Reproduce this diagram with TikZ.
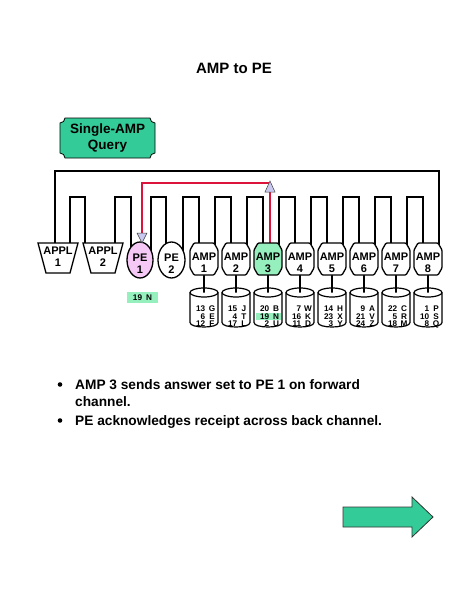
\documentclass[tikz,border=0pt]{standalone}
\usepackage{fontspec}
\setmainfont{Liberation Sans}
\usetikzlibrary{calc,backgrounds}
\definecolor{tealq}{RGB}{51,204,153}
\definecolor{mint}{RGB}{150,240,190}
\definecolor{pinkpe}{RGB}{245,200,245}
\definecolor{redline}{RGB}{220,20,60}
\definecolor{lav}{RGB}{200,200,240}
\begin{document}
\begin{tikzpicture}[x=1pt,y=-1pt,
  wire/.style={line width=1.4pt,draw=black},
  redwire/.style={line width=2.6pt,draw=redline},
  shp/.style={line width=1.3pt,draw=black,fill=white},
  lbl/.style={font=\fontsize{11}{12}\selectfont\bfseries,align=center,inner sep=0pt},
  cell/.style={font=\fontsize{8.2}{8.2}\selectfont\bfseries,inner sep=0pt},
  tri/.style={fill=lav,draw=black!75,line width=0.5pt},
  bullettext/.style={font=\fontsize{13.7}{16}\selectfont\bfseries,inner sep=0pt,anchor=base west}
]
\useasboundingbox (0,0) rectangle (474,613);

% title
\node[font=\fontsize{15}{18}\selectfont\bfseries] (title) at (234,68) {AMP to PE};

% Single-AMP Query plaque
\path[fill=tealq,draw=black,line width=0.8pt]
  (65,118) -- (150,118) .. controls (150,120.76) and (152.24,123) .. (155,123)
  -- (155,153) .. controls (152.24,153) and (150,155.24) .. (150,158)
  -- (65,158) .. controls (65,155.24) and (62.76,153) .. (60,153)
  -- (60,123) .. controls (62.76,123) and (65,120.76) .. (65,118) -- cycle;
\node[font=\fontsize{13.5}{16}\selectfont\bfseries,align=center,inner sep=0pt] (query) at (107.5,138) {Single-AMP\\Query};

% APPL nodes
\draw[shp] (38,243) -- (78,243) -- (70,273) -- (46,273) -- cycle;
\node[lbl] (appl1) at (58,257) {APPL\\1};
\draw[shp] (83,243) -- (123,243) -- (115,273) -- (91,273) -- cycle;
\node[lbl] (appl2) at (103,257) {APPL\\2};

% PE nodes
\draw[shp,fill=pinkpe] (140,260) ellipse [x radius=13pt,y radius=18pt];
\node[lbl] (pe1) at (140,264) {PE\\1};
\draw[shp] (171.5,260) ellipse [x radius=13.5pt,y radius=18pt];
\node[lbl] (pe2) at (171.5,264) {PE\\2};

\coordinate (Lappl1) at ([xshift=-3pt,yshift=8pt]appl1.center);
\coordinate (Rappl1) at ([xshift=12pt,yshift=8pt]appl1.center);
\coordinate (Lappl2) at ([xshift=-18pt,yshift=8pt]appl2.center);
\coordinate (Rappl2) at ([xshift=12pt,yshift=8pt]appl2.center);
\coordinate (Lpe1) at ([xshift=-9pt]pe1.center);
\coordinate (Rpe1) at ([xshift=11pt]pe1.center);
\coordinate (Lpe2) at ([xshift=-5.5pt]pe2.center);
\coordinate (Rpe2) at ([xshift=11.5pt]pe2.center);

% AMP nodes and disks
\foreach \i in {1,...,8}{
  \pgfmathsetmacro{\cx}{204+32*(\i-1)}
  \ifnum\i=3 \def\ampfill{mint}\else\def\ampfill{white}\fi
  \draw[shp,fill=\ampfill,rounded corners=1pt]
    (\cx-10,243) -- (\cx+10,243) -- (\cx+14,250) -- (\cx+14,268)
    -- (\cx+10,275) -- (\cx-10,275) -- (\cx-14,268) -- (\cx-14,250) -- cycle;
  \node[lbl] (amp\i) at (\cx,263) {AMP\\\i};
  \coordinate (Lamp\i) at ([xshift=-5pt]amp\i.center);
  \coordinate (Ramp\i) at ([xshift=11pt]amp\i.center);
  \fill[white] (\cx-14,292.5) -- (\cx-14,322.5)
    .. controls (\cx-14,328.5) and (\cx+14,328.5) .. (\cx+14,322.5)
    -- (\cx+14,292.5) -- cycle;
  \draw[line width=1.2pt] (\cx-14,292.5) -- (\cx-14,322.5)
    .. controls (\cx-14,328.5) and (\cx+14,328.5) .. (\cx+14,322.5)
    -- (\cx+14,292.5);
  \draw[line width=1.2pt] (\cx,292.5) ellipse [x radius=14pt,y radius=4.5pt];
  \coordinate (cyl\i) at (\cx,292.5);
}

% highlight of row 19 N on AMP 3 disk
\fill[mint] (255.5,312.5) rectangle (280.5,320);

% disk contents
\foreach \i/\na/\la/\nb/\lb/\nc/\lc in {
  1/13/G/6/E/12/F, 2/15/J/4/T/17/L, 3/20/B/19/N/2/U, 4/7/W/16/K/11/D,
  5/14/H/23/X/3/Y, 6/9/A/21/V/24/Z, 7/22/C/5/R/18/M, 8/1/P/10/S/8/Q}{
  \pgfmathsetmacro{\cx}{204+32*(\i-1)}
  \node[cell,anchor=base east] (na\i) at (\cx+1.5,311.5) {\na};
  \node[cell,anchor=base] (la\i) at (\cx+8,311.5) {\la};
  \node[cell,anchor=base east] (nb\i) at (\cx+1.5,319) {\nb};
  \node[cell,anchor=base] (lb\i) at (\cx+8,319) {\lb};
  \node[cell,anchor=base east] (nc\i) at (\cx+1.5,326.5) {\nc};
  \node[cell,anchor=base] (lc\i) at (\cx+8,326.5) {\lc};
}

% 19 N label
\node[cell,fill=mint,minimum width=31pt,minimum height=11pt] (hit) at (142.5,297.5) {19\hspace{4pt}N};

% wires (behind the nodes)
\begin{scope}[on background layer]
  \coordinate (bus) at (0,197);
  \coordinate (ring) at (0,171);
  \coordinate (redrow) at (0,183);
  \coordinate (uptri) at (0,192);
  \coordinate (downtri) at (0,233);
  \draw[wire] (Lappl1) -- (Lappl1 |- ring) -- (Ramp8 |- ring) -- (Ramp8);
  \foreach \a/\b in {appl1/appl2, appl2/pe1, pe1/pe2, pe2/amp1, amp1/amp2,
                     amp2/amp3, amp3/amp4, amp4/amp5, amp5/amp6, amp6/amp7, amp7/amp8}{
    \draw[wire] (R\a) -- (R\a |- bus) -- (L\b |- bus) -- (L\b);
  }
  \foreach \i in {1,...,8}{
    \draw[wire] (amp\i.center) -- (cyl\i);
  }
  \coordinate (redA) at ([xshift=2pt]amp3.center);
  \coordinate (redP) at ([xshift=2pt]pe1.center);
  \draw[redwire] (redA) -- (redA |- uptri);
  \draw[redwire] (redA |- redrow) -- (redP |- redrow) -- (redP |- downtri);
\end{scope}

% arrowheads on the red path
\filldraw[tri] (265,192) -- (275,192) -- (270,181) -- cycle;
\filldraw[tri] (137,233) -- (147,233) -- (142,243) -- cycle;

% bullet text
\fill (60,384.5) circle [radius=2.3pt];
\node[bullettext] (b1a) at (75,389) {AMP 3 sends answer set to PE 1 on forward};
\node[bullettext] (b1b) at (75,406) {channel.};
\fill (60,420.5) circle [radius=2.3pt];
\node[bullettext] (b2) at (75,425) {PE acknowledges receipt across back channel.};

% block arrow
\path[fill=tealq,draw=black!80,line width=0.8pt]
  (343,507) -- (412,507) -- (412,497) -- (433,517) -- (412,537) -- (412,527) -- (343,527) -- cycle;
\end{tikzpicture}
\end{document}
